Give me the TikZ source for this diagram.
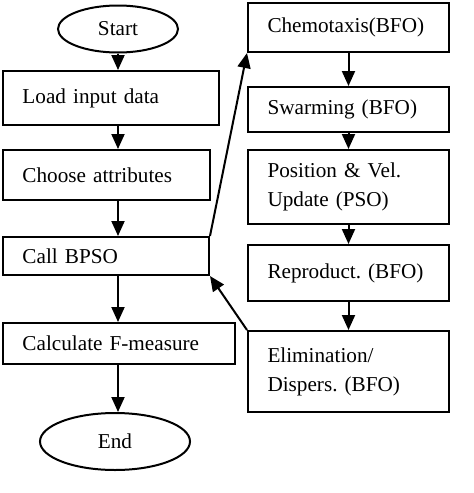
\documentclass[tikz,border=0pt]{standalone}
\usepackage{fontspec}
\setmainfont{Liberation Serif}
\usetikzlibrary{arrows.meta, shapes.geometric}
\frenchspacing

\begin{document}
\begin{tikzpicture}[
    x=0.5pt, y=-0.5pt,
    every node/.style={font=\fontsize{10.6}{14.5}\selectfont},
    term/.style={ellipse, draw, line width=1pt, inner sep=0pt},
    stepbox/.style={rectangle, draw, line width=1pt, inner xsep=9.75pt, inner ysep=0pt, align=left},
    bfo/.style={stepbox, text width=81pt},
    arrow/.style={-{Triangle[length=7.5pt,width=6.5pt]}, line width=1pt}
]
    \useasboundingbox (0,0) rectangle (474,493);

    % Main flow
    \node[term, minimum width=60pt, minimum height=23.5pt] (start) at (118, 29) {Start};
    \node[stepbox, text width=88.5pt, minimum height=27pt] (load) at (111, 98) {Load input data};
    \node[stepbox, text width=84pt, minimum height=25pt] (choose) at (106.5, 175) {Choose attributes};
    \node[stepbox, text width=83.5pt, minimum height=19pt] (call) at (106, 256) {Call BPSO};
    \node[stepbox, text width=96.5pt, minimum height=20.5pt] (calc) at (119, 343.5) {Calculate F-measure};
    \node[term, minimum width=75pt, minimum height=28.5pt] (end) at (115, 441.5) {End};

    % BPSO steps
    \node[bfo, minimum height=24.5pt] (chemo) at (348.5, 27.5) {Chemotaxis(BFO)};
    \node[bfo, minimum height=22.5pt] (swarm) at (348.5, 109.5) {Swarming (BFO)};
    \node[bfo, minimum height=37pt] (posvel) at (348.5, 187) {Position \& Vel.\\Update (PSO)};
    \node[bfo, minimum height=28pt] (repro) at (348.5, 273) {Reproduct. (BFO)};
    \node[bfo, minimum height=40.5pt] (elim) at (348.5, 371.5) {Elimination/\\Dispers. (BFO)};

    % Main path
    \draw[arrow] (start) -- (start |- load.north);
    \draw[arrow] (load.south -| start) -- (start |- choose.north);
    \draw[arrow] (choose.south -| start) -- (start |- call.north);
    \draw[arrow] (call.south -| start) -- (start |- calc.north);
    \draw[arrow] (calc.south -| start) -- (start |- end.north);

    % BPSO loop
    \draw[arrow] (call.north east) -- (chemo.south west);
    \draw[arrow] (chemo) -- (swarm);
    \draw[arrow] (swarm) -- (posvel);
    \draw[arrow] (posvel) -- (repro);
    \draw[arrow] (repro) -- (elim);
    \draw[arrow] (elim.north west) -- (call.south east);
\end{tikzpicture}
\end{document}
